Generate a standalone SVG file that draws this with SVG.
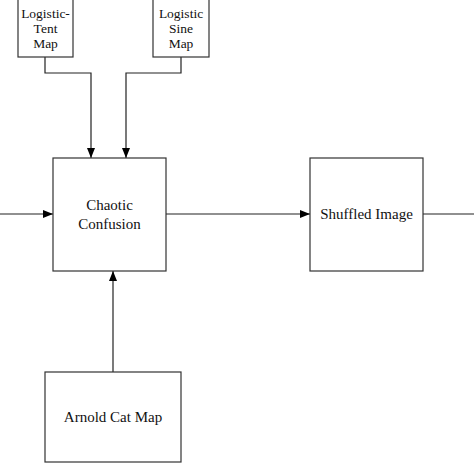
<svg xmlns="http://www.w3.org/2000/svg" width="474" height="474" viewBox="0 0 474 474">
<style>
.box{fill:#fff;stroke:#333;stroke-width:1.2}
.ln{fill:none;stroke:#222;stroke-width:1.2}
text{font-family:"Liberation Serif","Times New Roman",serif;fill:#111;text-anchor:middle}
.s{font-size:13.5px}
.m{font-size:15px}
</style>
<defs>
<marker id="ah" viewBox="0 0 10 8" refX="10" refY="4" markerWidth="10" markerHeight="8" markerUnits="userSpaceOnUse" orient="auto">
<path d="M0,0 L10,4 L0,8 Z" fill="#000"/>
</marker>
</defs>
<rect x="0" y="0" width="474" height="474" fill="#fff"/>
<g id="connectors">
<path class="ln" d="M45,57 V73 H91 V158" marker-end="url(#ah)"/>
<path class="ln" d="M181,57 V73 H126 V158" marker-end="url(#ah)"/>
<path class="ln" d="M0,214 H53" marker-end="url(#ah)"/>
<path class="ln" d="M166,214 H310" marker-end="url(#ah)"/>
<path class="ln" d="M423,214 H474"/>
<path class="ln" d="M113,372 V271" marker-end="url(#ah)"/>
</g>
<g id="logistic-tent">
<rect class="box" x="18" y="-1" width="55" height="58"/>
<text class="s" x="45.5" y="18">Logistic-</text>
<text class="s" x="45.5" y="33">Tent</text>
<text class="s" x="45.5" y="48">Map</text>
</g>
<g id="logistic-sine">
<rect class="box" x="153" y="-1" width="56" height="58"/>
<text class="s" x="181" y="18">Logistic</text>
<text class="s" x="181" y="33">Sine</text>
<text class="s" x="181" y="48">Map</text>
</g>
<g id="chaotic-confusion">
<rect class="box" x="53" y="158" width="113" height="113"/>
<text class="m" x="109.5" y="210">Chaotic</text>
<text class="m" x="109.5" y="229">Confusion</text>
</g>
<g id="shuffled-image">
<rect class="box" x="310" y="158" width="113" height="113"/>
<text class="m" x="366.5" y="219">Shuffled Image</text>
</g>
<g id="arnold-cat-map">
<rect class="box" x="45" y="372" width="136" height="90"/>
<text class="m" x="113" y="422">Arnold Cat Map</text>
</g>
</svg>
